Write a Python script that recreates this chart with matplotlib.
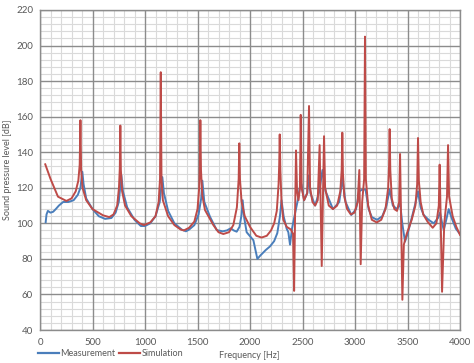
import numpy as np
import matplotlib.pyplot as plt
from matplotlib.ticker import MultipleLocator
from matplotlib.lines import Line2D

plt.rcParams['font.family'] = ['Lato', 'DejaVu Sans']

# Measurement ------------------------------------------------
meas_freq = [54, 62, 75, 100, 125, 150, 180, 220, 270, 320, 360, 385, 403, 415, 440,
             500, 560, 620, 680, 720, 750, 775, 790, 830, 900, 960, 1000, 1050, 1100,
             1140, 1165, 1180, 1220, 1280, 1350, 1390, 1420, 1470, 1510, 1535, 1546,
             1565, 1619, 1683, 1740, 1780, 1816, 1845, 1873, 1900, 1920, 1930, 1945,
             1968, 2032, 2070, 2100, 2150, 2190, 2230, 2260, 2285, 2300, 2320, 2349,
             2365, 2381, 2400, 2429, 2455, 2476, 2490, 2515, 2545, 2560, 2575, 2620,
             2660, 2690, 2720, 2790, 2850, 2880, 2910, 2965, 3010, 3040, 3070, 3100,
             3130, 3160, 3210, 3260, 3300, 3330, 3360, 3400, 3430, 3450, 3476, 3500,
             3527, 3574, 3600, 3625, 3654, 3700, 3750, 3790, 3810, 3830, 3845, 3865,
             3892, 3920, 3960, 4000]
meas_db = [100.6, 105, 107, 106, 106.5, 108, 110, 112, 112, 113, 116, 120, 129, 122, 114,
           108, 104, 102.5, 103, 106, 112, 127, 118, 109, 102, 98.5, 98.5, 100, 104,
           112, 126, 117, 107, 100, 96.5, 95.5, 96.5, 99, 105, 114, 124,
           112, 103.7, 96.2, 95.5, 96, 97.2, 96, 95.3, 98, 105, 113, 103,
           95, 90.5, 80, 82, 85, 87, 90, 94.5, 104, 113, 104, 97,
           95, 88, 97, 105.6, 113, 120.6, 122, 113, 117, 127, 117, 110,
           118, 130, 118, 108, 112, 125, 112, 104.7, 108, 118, 119, 119,
           108, 103.5, 102, 104, 110, 119, 110, 108, 111, 100, 89.7, 94,
           100, 111, 118, 109, 104.7, 102, 100, 103, 106, 100, 96.2, 101,
           108, 103, 97, 94]

# Simulation -------------------------------------------------
sim_freq = [50, 100, 171, 251, 300, 340, 365, 378, 385, 392, 405, 440, 500, 600, 660, 700,
            735, 752, 760, 765, 770, 782, 810, 870, 950, 990, 1050, 1100, 1130, 1143,
            1150, 1157, 1170, 1220, 1280, 1340, 1370, 1420, 1470, 1500, 1516, 1522,
            1527, 1533, 1545, 1571, 1651, 1700, 1746, 1800, 1841, 1875, 1892, 1898,
            1904, 1920, 1950, 2000, 2060, 2110, 2160, 2200, 2230, 2255, 2272, 2278,
            2283, 2289, 2300, 2317, 2350, 2390, 2410, 2420, 2428, 2438, 2448, 2462,
            2475, 2483, 2492, 2515, 2545, 2562, 2572, 2595, 2620, 2645, 2663, 2673,
            2683, 2693, 2705, 2715, 2750, 2790, 2830, 2860, 2873, 2879, 2885, 2898,
            2925, 2960, 2995, 3025, 3041, 3054, 3068, 3087, 3095, 3103, 3125, 3160,
            3207, 3250, 3290, 3316, 3324, 3330, 3336, 3350, 3375, 3400, 3420, 3429,
            3451, 3465, 3492, 3540, 3575, 3592, 3600, 3608, 3625, 3650, 3690, 3740,
            3775, 3798, 3806, 3829, 3850, 3876, 3886, 3896, 3930, 3965, 4000]
sim_db = [133.2, 125, 115, 112.6, 114, 118, 124, 133, 158, 130, 120, 113, 108, 104.5, 103.5, 105,
          110, 120, 131, 155, 130, 118, 110, 104, 100, 99, 100.5, 104, 112, 125,
          185, 125, 113, 104, 99, 96.5, 96, 97.5, 101, 108, 120, 132,
          158, 130, 116, 107.5, 99, 95, 94, 95, 99, 109, 125, 145,
          125, 112, 104, 98, 93, 92, 93, 96, 100, 107, 122, 133,
          150, 130, 112, 102, 98, 96.5, 94, 62, 100, 141, 118, 113,
          120, 161, 120, 113, 117, 166, 120, 112, 110, 113, 144, 110,
          76, 110, 149, 120, 110, 108, 110, 118, 130, 151, 128, 115,
          108, 105, 106, 112, 130, 77, 112, 125, 205, 125, 110, 102,
          100.5, 102, 108, 120, 132, 153, 130, 114, 108, 107, 112, 139,
          57, 88, 94, 102, 110, 122, 148, 124, 112, 105, 101, 97.5,
          100, 110, 133, 61.5, 100, 115, 144, 115, 104, 98, 93.5]

blue = '#4a7ebb'
red = '#be4b48'
grey_txt = '#595959'

fig = plt.figure(figsize=(4.74, 3.63), dpi=100)
ax = fig.add_axes([0.0844, 0.0909, 0.8861, 0.8816])

ax.plot(meas_freq, meas_db, color=blue, lw=1.4, label='Measurement', zorder=3)
ax.plot(sim_freq, sim_db, color=red, lw=1.4, label='Simulation', zorder=4)

ax.set_xlim(0, 4000)
ax.set_ylim(40, 220)
ax.xaxis.set_major_locator(MultipleLocator(500))
ax.xaxis.set_minor_locator(MultipleLocator(100))
ax.yaxis.set_major_locator(MultipleLocator(20))
ax.yaxis.set_minor_locator(MultipleLocator(4))

# light minor grid below, darker major grid on top of it
ax.set_axisbelow(True)
ax.grid(which='minor', color='#dadada', lw=0.8)
for xv in ax.get_xticks():
    ax.axvline(xv, color='#8c8c8c', lw=1.0, zorder=2)
for yv in ax.get_yticks():
    ax.axhline(yv, color='#8c8c8c', lw=1.0, zorder=2)

ax.tick_params(which='both', length=0, labelsize=7, labelcolor=grey_txt)
ax.tick_params(axis='x', pad=5.5)
ax.tick_params(axis='y', pad=5)
for s in ax.spines.values():
    s.set_color('#8c8c8c')
    s.set_linewidth(1.0)

ax.set_ylabel('Sound pressure level [dB]', fontsize=6.5, color=grey_txt)
ax.yaxis.set_label_coords(-0.067, 0.5)
fig.text(0.527, 0.022, 'Frequency [Hz]', fontsize=6.5, color=grey_txt, ha='center', va='center')

handles = [Line2D([], [], color=blue, lw=1.6), Line2D([], [], color=red, lw=1.6)]
fig.legend(handles, ['Measurement', 'Simulation'], loc='center left',
           bbox_to_anchor=(0.080, 0.025), ncol=2, frameon=False, fontsize=6.5,
           labelcolor=grey_txt, handlelength=2.3, handletextpad=0.15, columnspacing=0.45,
           borderpad=0, borderaxespad=0)

fig.savefig('out.png', dpi=100)
